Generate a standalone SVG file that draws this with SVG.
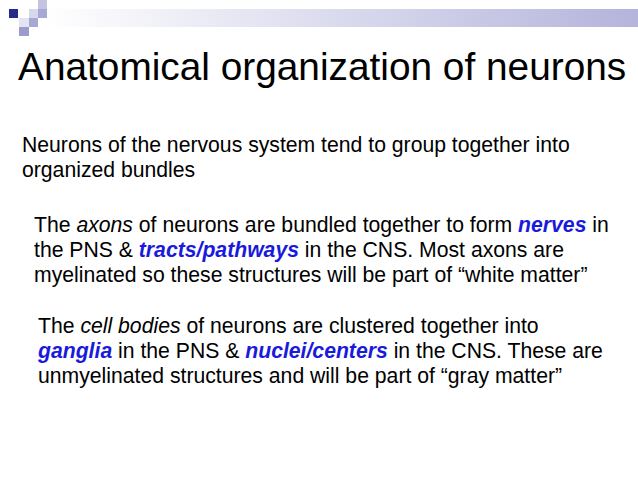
<svg xmlns="http://www.w3.org/2000/svg" width="638" height="478" viewBox="0 0 638 478">
<defs><linearGradient id="g" x1="0" x2="1"><stop offset="0" stop-color="#ffffff"/><stop offset="1" stop-color="#b4b4dc"/></linearGradient>
<style>text{font-family:"Liberation Sans",Arial,sans-serif;fill:#000}.b{font-size:21.2px}.k{fill:#1a1adc;font-weight:bold;font-style:italic}</style></defs>
<rect width="638" height="478" fill="#fff"/>
<g id="deco">
<rect x="47" y="9" width="591" height="18" fill="url(#g)"/>
<rect x="9" y="9" width="9" height="9" fill="#2a2a8c"/>
<rect x="29" y="9" width="9" height="9" fill="#d8d8ec"/>
<rect x="38" y="0" width="9" height="9" fill="#c4c4e0"/>
<rect x="38" y="9" width="9" height="9" fill="#a8a8d4"/>
<rect x="29" y="18" width="9" height="9" fill="#a8a8d4"/>
<rect x="19" y="18" width="10" height="9" fill="#e4e4f2"/>
<rect x="19" y="27" width="10" height="9" fill="#9c9ccc"/>
</g>
<g id="title"><text x="18" y="80" font-size="38.8">Anatomical organization of neurons</text></g>
<g id="p1"><text x="22" y="152" class="b">Neurons of the nervous system tend to group together into</text><text x="22" y="177" class="b">organized bundles</text></g>
<g id="p2"><text x="34" y="232" class="b">The <tspan font-style="italic">axons</tspan> of neurons are bundled together to form <tspan class="k">nerves</tspan> in</text>
<text x="34" y="257" class="b">the PNS &amp; <tspan class="k">tracts/pathways</tspan> in the CNS. Most axons are</text>
<text x="34" y="282" class="b">myelinated so these structures will be part of “white matter”</text></g>
<g id="p3"><text x="38" y="333" class="b">The <tspan font-style="italic">cell bodies</tspan> of neurons are clustered together into</text>
<text x="38" y="358" class="b"><tspan class="k">ganglia</tspan> in the PNS &amp; <tspan class="k">nuclei/centers</tspan> in the CNS. These are</text>
<text x="38" y="383" class="b">unmyelinated structures and will be part of “gray matter”</text></g>
</svg>
